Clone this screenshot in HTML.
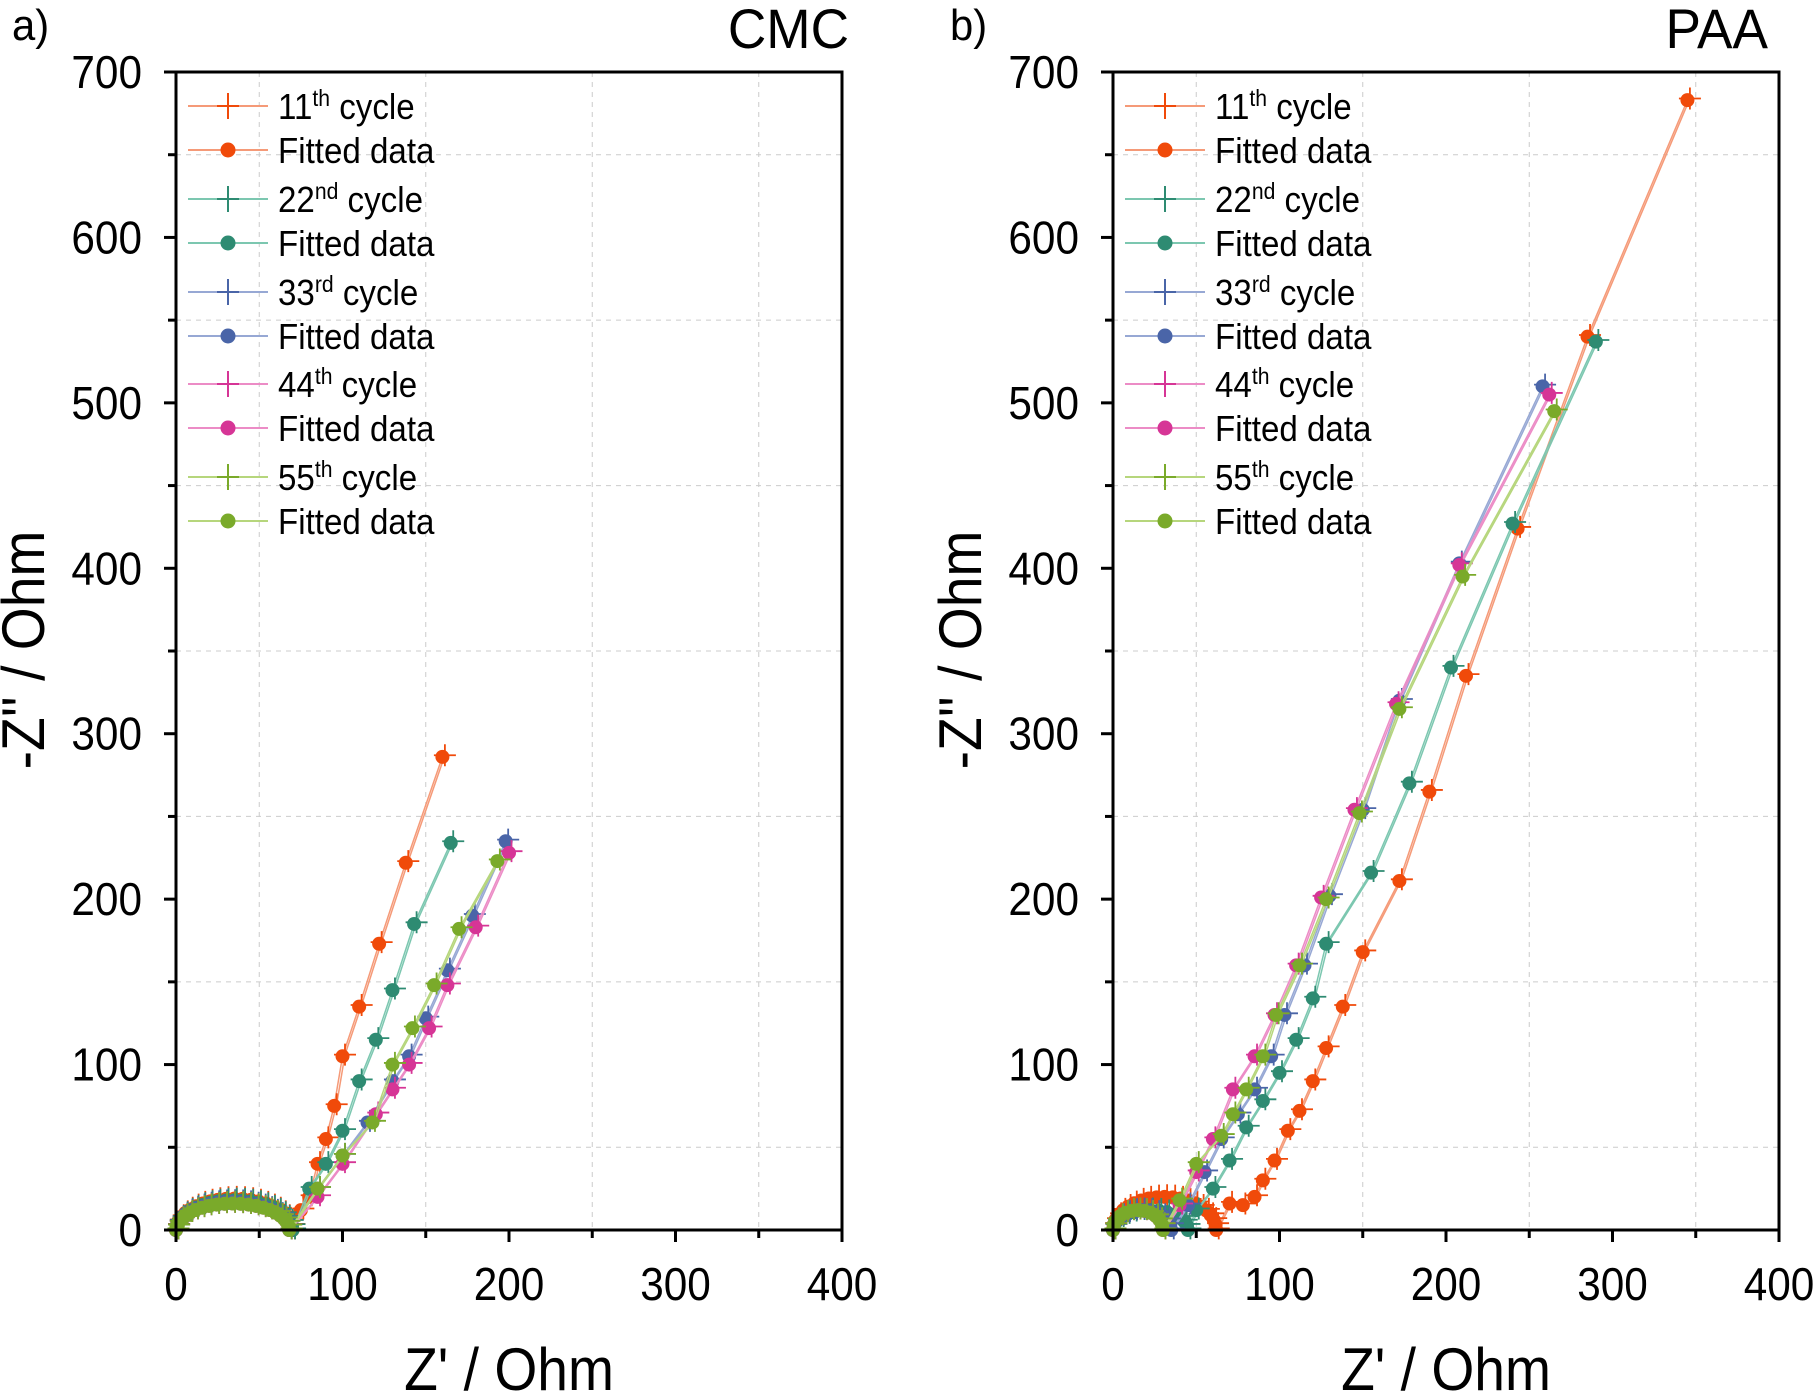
<!DOCTYPE html>
<html><head><meta charset="utf-8"><style>
html,body{margin:0;padding:0;background:#fff}
svg{display:block;font-family:"Liberation Sans",Arial,sans-serif}
</style></head><body>
<svg id="s" width="1816" height="1393" viewBox="0 0 1816 1393" xmlns="http://www.w3.org/2000/svg">
<g id="g"></g>
<text transform="translate(12,40) scale(0.95,1)" font-size="44">a)</text>
<text transform="translate(849,48) scale(0.95,1)" font-size="56" text-anchor="end">CMC</text>
<text transform="translate(950,40) scale(0.95,1)" font-size="44">b)</text>
<text transform="translate(1768,48) scale(0.95,1)" font-size="56" text-anchor="end">PAA</text>
<text transform="translate(44,650) rotate(-90) scale(0.92,1)" font-size="60" text-anchor="middle">-Z'' / Ohm</text>
<text transform="translate(981,650) rotate(-90) scale(0.92,1)" font-size="60" text-anchor="middle">-Z'' / Ohm</text>
<text transform="translate(509,1390) scale(0.92,1)" font-size="60" text-anchor="middle">Z' / Ohm</text>
<text transform="translate(1446,1390) scale(0.92,1)" font-size="60" text-anchor="middle">Z' / Ohm</text>
</svg>
<script>
const NS="http://www.w3.org/2000/svg",G=document.getElementById('g');
function el(t,a,p){const e=document.createElementNS(NS,t);for(const k in a)e.setAttribute(k,a[k]);(p||G).appendChild(e);return e;}
const cols=[["#f04a0a","#f59a78"],["#2e8b72","#7cc7b0"],["#4a65a8","#97a8d4"],["#d63596","#ec8cc6"],["#7aaa2a","#b6d67c"]];
function semi(x0,x1,h,n){const p=[];for(let i=0;i<=n;i++){const t=Math.PI*i/n;p.push([(x0+x1)/2-(x1-x0)/2*Math.cos(t),h*Math.sin(t)]);}return p;}
const L=[
 semi(0,70,19,22).concat([[75,12],[80,20],[85,40],[90,55],[95,75],[100,105],[110,135],[122,173],[138,222],[160,286]]),
 semi(0,70,18,22).concat([[80,25],[90,40],[100,60],[110,90],[120,115],[130,145],[143,185],[165,234]]),
 semi(0,68,17,22).concat([[85,25],[100,45],[115,65],[130,90],[140,105],[150,128],[163,157],[178,190],[198,235]]),
 semi(0,68,16,22).concat([[85,20],[100,40],[120,70],[130,85],[140,100],[152,122],[163,148],[180,183],[200,228]]),
 semi(0,68,16,22).concat([[85,25],[100,45],[118,65],[130,100],[142,122],[155,148],[170,182],[193,223]])];
const R=[
 semi(0,62,20,20).concat([[70,16],[78,15],[85,20],[90,30],[97,42],[105,60],[112,72],[120,90],[128,110],[138,135],[150,168],[172,211],[190,265],[212,335],[243,424],[285,540],[345,683]]),
 semi(0,45,12,14).concat([[50,12],[60,25],[70,42],[80,62],[90,78],[100,95],[110,115],[120,140],[128,173],[155,216],[178,270],[203,340],[240,427],[290,537]]),
 semi(0,35,12,12).concat([[45,15],[55,35],[65,55],[75,70],[85,85],[95,105],[103,130],[115,160],[130,202],[150,254],[172,320],[208,403],[258,510]]),
 semi(0,30,12,12).concat([[40,15],[50,35],[60,55],[72,85],[85,105],[97,130],[110,160],[125,201],[145,254],[170,318],[208,402],[262,505]]),
 semi(0,30,12,12).concat([[40,18],[50,40],[65,57],[72,70],[80,85],[90,105],[98,130],[112,160],[128,200],[148,252],[172,315],[210,395],[265,495]])];
function txt(x,y,fs,anchor,s){const t=el('text',{transform:`translate(${x},${y}) scale(0.92,1)`,'font-size':fs,'text-anchor':anchor});t.textContent=s;return t;}
function panel(X0,data){
 const X=v=>X0+v*666/400, Y=v=>1230-v*1158/700;
 for(let v=50;v<400;v+=100)el('line',{x1:X(v),x2:X(v),y1:72,y2:1230,stroke:'#ccc','stroke-dasharray':'5,5','stroke-width':1});
 for(let v=50;v<700;v+=100)el('line',{x1:X0,x2:X(400),y1:Y(v),y2:Y(v),stroke:'#ccc','stroke-dasharray':'5,5','stroke-width':1});
 data.forEach((pts,i)=>{
  const [c,lc]=cols[i];
  const pa=pts.map(p=>X(p[0]+1.5)+','+Y(p[1]+1)).join(' ');
  const pb=pts.map(p=>X(p[0])+','+Y(p[1])).join(' ');
  el('polyline',{points:pa,fill:'none',stroke:lc,'stroke-width':1.5});
  el('polyline',{points:pb,fill:'none',stroke:lc,'stroke-width':1.5});
  pts.forEach(p=>{const x=X(p[0]+1.5),y=Y(p[1]+1);
   el('path',{d:`M${x-11} ${y}H${x+11}M${x} ${y-11}V${y+11}`,stroke:c,'stroke-width':1.8});
   el('circle',{cx:X(p[0]),cy:Y(p[1]),r:7,fill:c});});
 });
 el('rect',{x:X0,y:72,width:666,height:1158,fill:'none',stroke:'#000','stroke-width':3});
 for(let v=0;v<=400;v+=50){const big=v%100==0;el('line',{x1:X(v),x2:X(v),y1:1230,y2:1230+(big?12:8),stroke:'#000','stroke-width':3});
  if(big)txt(X(v),1300,46,'middle',v);}
 for(let v=0;v<=700;v+=50){const big=v%100==0;el('line',{x1:X0,x2:X0-(big?12:8),y1:Y(v),y2:Y(v),stroke:'#000','stroke-width':3});
  if(big)txt(X0-34,Y(v)+16,46,'end',v);}
 const ly=[106,150,199,243,292,336,384,428,477,521],names=[['11','th'],['22','nd'],['33','rd'],['44','th'],['55','th']];
 ly.forEach((y,k)=>{const i=k>>1,[c,lc]=cols[i],lx=X0+12;
  el('line',{x1:lx,x2:lx+80,y1:y,y2:y,stroke:lc,'stroke-width':2});
  if(k%2==0)el('path',{d:`M${lx+40-11} ${y}H${lx+40+11}M${lx+40} ${y-13}V${y+13}`,stroke:c,'stroke-width':2});
  else el('circle',{cx:lx+40,cy:y,r:7.5,fill:c});
  const t=el('text',{transform:`translate(${lx+90},${y+13}) scale(0.92,1)`,'font-size':36});
  if(k%2==0){t.appendChild(document.createTextNode(names[i][0]));const s=el('tspan',{dy:-13,'font-size':23},t);s.textContent=names[i][1];const s2=el('tspan',{dy:13},t);s2.textContent=' cycle';}
  else t.textContent='Fitted data';
 });
}
panel(176,L);panel(1113,R);
</script>
</body></html>
